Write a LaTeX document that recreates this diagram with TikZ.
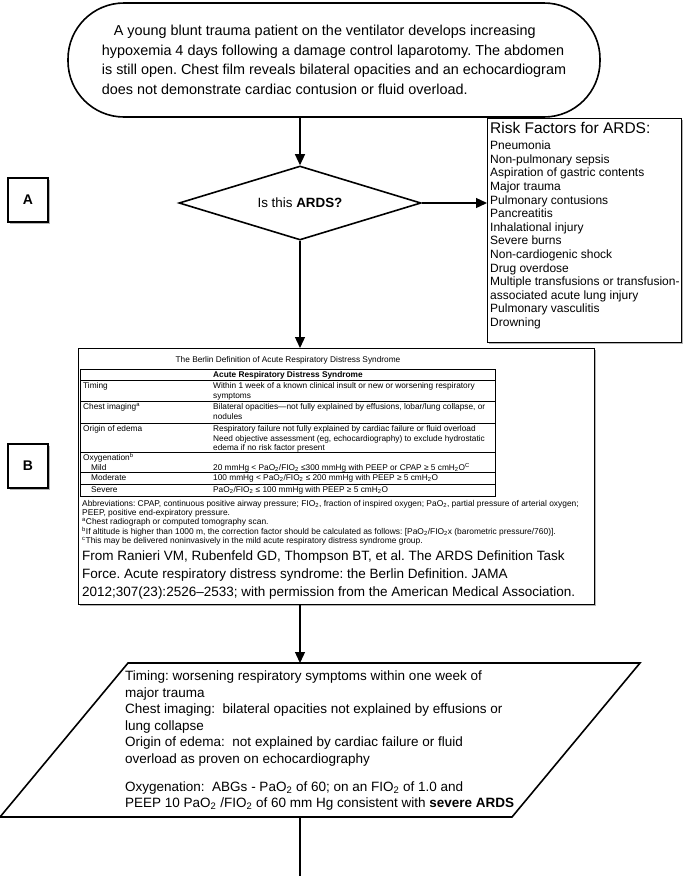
\documentclass[tikz,border=0pt]{standalone}
\usepackage{fontspec}
\setmainfont{Liberation Sans}
\usetikzlibrary{shapes.geometric,arrows.meta,shadows}
\newcommand{\sub}[1]{\textsubscript{#1}}
\newcommand{\ratio}{PaO\sub{2}/FIO\sub{2}}
\frenchspacing

\begin{document}
\begin{tikzpicture}[x=1pt, y=-1pt,
    >={Triangle[length=11pt, width=10pt]},
    flow/.style = {line width=1.3pt},
    main/.style = {draw, line width=1.6pt, fill=white},
    start/.style = {main, rounded corners=56pt, minimum width=532pt, minimum height=114pt, align=left, font=\fontsize{14.4}{19.5}\selectfont},
    decision/.style = {main, diamond, aspect=3.27, minimum width=242pt, minimum height=74pt, inner sep=0pt, font=\fontsize{13.4}{16}\selectfont},
    box/.style = {draw, line width=1.3pt, fill=white, inner sep=0pt, drop shadow={shadow xshift=1.5pt, shadow yshift=-1.5pt, opacity=0.6}},
    tag/.style = {box, minimum width=40pt, minimum height=44pt, font=\fontsize{14}{16}\selectfont\bfseries},
    txt/.style = {anchor=north west, inner sep=0pt, align=left},
    celltext/.style = {txt, font=\fontsize{8.3}{9.6}\selectfont},
    tablerule/.style = {line width=0.6pt}]
\useasboundingbox (0,0) rectangle (685,876);

% the case
\node[start] (case) at (334,60) {\hspace*{12pt}A young blunt trauma patient on the ventilator develops increasing\\
    hypoxemia 4 days following a damage control laparotomy. The abdomen\\
    is still open. Chest film reveals bilateral opacities and an echocardiogram\\
    does not demonstrate cardiac contusion or fluid overload.};

\node[decision] (ards) at (300,203) {Is this \textbf{ARDS?}};
\node[tag] (A) at (28,200) {A};
\node[tag] (B) at (28,466) {B};

% risk factors
\node[box, minimum width=194pt, minimum height=224pt, anchor=north west] (risk) at (487,118) {};
\node[anchor=mid west, inner sep=0pt, font=\fontsize{15.5}{18}\selectfont] (risktitle) at (490,131) {Risk Factors for ARDS:};
\node[txt, font=\fontsize{12}{13.6}\selectfont] (risklist) at (490,140) {\strut Pneumonia\\
    Non-pulmonary sepsis\\
    Aspiration of gastric contents\\
    Major trauma\\
    Pulmonary contusions\\
    Pancreatitis\\
    Inhalational injury\\
    Severe burns\\
    Non-cardiogenic shock\\
    Drug overdose\\
    Multiple transfusions or transfusion-\\
    associated acute lung injury\\
    Pulmonary vasculitis\\
    Drowning};

% berlin definition
\node[box, minimum width=516pt, minimum height=256pt, anchor=north west] (berlin) at (78,348) {};
\node[inner sep=0pt, anchor=mid, font=\fontsize{8.3}{9.6}\selectfont] (berlintitle) at (288,360) {The Berlin Definition of Acute Respiratory Distress Syndrome};
\draw[tablerule] (80.5,369) rectangle (495,496);
\foreach \y in {380,401,423,452,472,484}
    \draw[tablerule] (80.5,\y) -- (495,\y);
\node[celltext, font=\fontsize{8.3}{9.6}\selectfont\bfseries] (head) at (213,370.5) {\strut Acute Respiratory Distress Syndrome};
\node[celltext] (timing) at (83,381.5) {\strut Timing};
\node[celltext] (timingdef) at (213,381.5) {\strut Within 1 week of a known clinical insult or new or worsening respiratory\\symptoms};
\node[celltext] (chest) at (83,402.5) {\strut Chest imaging\textsuperscript{a}};
\node[celltext] (chestdef) at (213,402.5) {\strut Bilateral opacities—not fully explained by effusions, lobar/lung collapse, or\\nodules};
\node[celltext] (edema) at (83,424.5) {\strut Origin of edema};
\node[celltext] (edemadef) at (213,424.5) {\strut Respiratory failure not fully explained by cardiac failure or fluid overload\\
    Need objective assessment (eg, echocardiography) to exclude hydrostatic\\edema if no risk factor present};
\node[celltext] (oxy) at (83,453.5) {\strut Oxygenation\textsuperscript{b}};
\node[celltext] (mild) at (91,463.3) {\strut Mild};
\node[celltext] (milddef) at (213,463.3) {\strut 20 mmHg < \ratio{} ≤300 mmHg with PEEP or CPAP ≥ 5 cmH\sub{2}O\textsuperscript{C}};
\node[celltext] (moderate) at (91,473.7) {\strut Moderate};
\node[celltext] (moderatedef) at (213,473.7) {\strut 100 mmHg < \ratio{} ≤ 200 mmHg with PEEP ≥ 5 cmH\sub{2}O};
\node[celltext] (severe) at (91,485.7) {\strut Severe};
\node[celltext] (severedef) at (213,485.7) {\strut \ratio{} ≤ 100 mmHg with PEEP ≥ 5 cmH\sub{2}O};
\node[txt, font=\fontsize{8.4}{9.3}\selectfont] (notes) at (82,499.5) {\strut Abbreviations: CPAP, continuous positive airway pressure; FIO\sub{2}, fraction of inspired oxygen; PaO\sub{2}, partial pressure of arterial oxygen;\\
    PEEP, positive end-expiratory pressure.\\
    \textsuperscript{a}Chest radiograph or computed tomography scan.\\
    \textsuperscript{b}If altitude is higher than 1000 m, the correction factor should be calculated as follows: [\ratio{}x (barometric pressure/760)].\\
    \textsuperscript{c}This may be delivered noninvasively in the mild acute respiratory distress syndrome group.};
\node[txt, font=\fontsize{13.5}{18}\selectfont] (source) at (82,548) {\strut From Ranieri VM, Rubenfeld GD, Thompson BT, et al. The ARDS Definition Task\\
    Force. Acute respiratory distress syndrome: the Berlin Definition. JAMA\\
    2012;307(23):2526–2533; with permission from the American Medical Association.};

% findings
\coordinate (findtop) at (300,663);
\coordinate (findbot) at (300,817);
\coordinate (exit) at (300,876);
\draw[line width=1.6pt] (128,663) -- (640,663) -- (512,817) -- (0,817) -- cycle;
\node[txt, font=\fontsize{13.5}{16.5}\selectfont] (findings) at (125,669) {\strut Timing: worsening respiratory symptoms within one week of\\
    major trauma\\
    Chest imaging:~ bilateral opacities not explained by effusions or\\
    lung collapse\\
    Origin of edema:~ not explained by cardiac failure or fluid\\
    overload as proven on echocardiography\\[11.5pt]
    Oxygenation:~ ABGs - PaO\sub{2} of 60; on an FIO\sub{2} of 1.0 and\\
    PEEP 10 PaO\sub{2} /FIO\sub{2} of 60 mm Hg consistent with \textbf{severe ARDS}};

\draw[flow, ->] (case.south -| ards.north) -- (ards.north);
\draw[flow, ->] (ards.east) -- (ards.east -| risk.west);
\draw[flow, ->] (ards.south) -- (ards.south |- berlin.north);
\draw[flow, ->] (berlin.south -| ards.south) -- (findtop);
\draw[flow] (findbot) -- (exit);
\end{tikzpicture}
\end{document}
